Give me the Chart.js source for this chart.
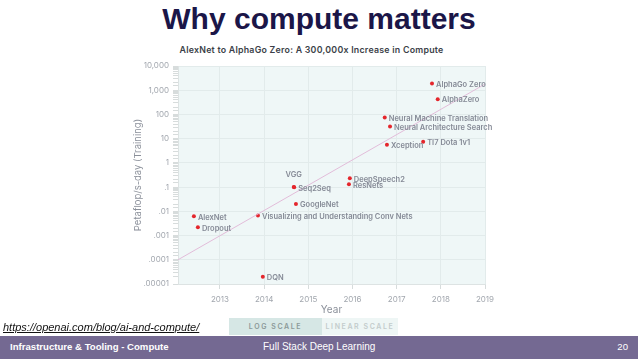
<!DOCTYPE html>
<html>
<head>
<meta charset="utf-8">
<script src="https://cdn.jsdelivr.net/npm/chart.js@4.4.0/dist/chart.umd.min.js"></script>
<style>
  html, body { margin: 0; padding: 0; background: #fff; }
  body { width: 638px; height: 359px; position: relative; overflow: hidden; font-family: "Liberation Sans", Arial, sans-serif; }
  #title { position: absolute; left: 0; top: 2px; width: 638px; text-align: center; font-weight: bold; font-size: 30px; color: #1b1648; }
  #subtitle { position: absolute; left: 0; top: 44px; width: 623px; text-align: center; font-family: Inter, sans-serif; font-weight: 600; font-size: 8.8px; letter-spacing: 0.25px; color: #3b3f48; }
  #chartWrap { position: absolute; left: 0; top: 0; }
  #link { position: absolute; left: 3px; top: 321px; font-size: 11px; font-style: italic; color: #111; text-decoration: underline; }
  .btn { position: absolute; top: 318px; height: 17px; line-height: 17px; text-align: center; font-family: Inter, sans-serif; font-size: 7px; letter-spacing: 1.6px; font-weight: 600; }
  #logBtn { left: 229px; width: 93px; background: #d6e7e5; color: #8c9a99; }
  #linBtn { left: 322px; width: 76px; background: #eef6f5; color: #c3cccc; }
  #footer { position: absolute; left: 0; top: 336px; width: 638px; height: 23px; background: #746992; color: #fff; }
  #footer span { position: absolute; top: 5px; font-size: 9.6px; }
  #fLeft { left: 10px; font-weight: bold; }
  #fMid { left: 263px; font-size: 10px !important; top: 5px !important; }
  #fRight { right: 10px; }
</style>
</head>
<body>
<div id="title">Why compute matters</div>
<div id="subtitle">AlexNet to AlphaGo Zero: A 300,000x Increase in Compute</div>
<div id="chartWrap"><canvas id="computeChart" width="638" height="359"></canvas></div>
<div id="link">https://openai.com/blog/ai-and-compute/</div>
<div class="btn" id="logBtn">LOG SCALE</div>
<div class="btn" id="linBtn">LINEAR SCALE</div>
<div id="footer">
  <span id="fLeft">Infrastructure &amp; Tooling - Compute</span>
  <span id="fMid">Full Stack Deep Learning</span>
  <span id="fRight">20</span>
</div>
<script>
// models, year of publication and training compute (petaflop/s-days)
const models = ['AlexNet', 'Dropout', 'DQN', 'Visualizing and Understanding Conv Nets', 'VGG', 'Seq2Seq',
  'GoogleNet', 'DeepSpeech2', 'ResNets', 'Xception', 'TI7 Dota 1v1', 'Neural Machine Translation',
  'Neural Architecture Search', 'AlphaZero', 'AlphaGo Zero'];
const years = [2012.41, 2012.5, 2013.97, 2013.86, 2014.67, 2014.68,
  2014.72, 2015.94, 2015.92, 2016.78, 2017.6, 2016.73,
  2016.85, 2017.93, 2017.8];
const compute = [0.0062, 0.0022, 0.00002, 0.0068, 0.1, 0.098,
  0.02, 0.23, 0.13, 5.6, 7.4, 75,
  32, 425, 1900];
const labelsAbove = ['VGG'];

// trend line end points
const trendYears = [2012.05, 2019];
const trendCompute = [0.0001, 1800];

const yTickLabels = {
  '10000': '10,000', '1000': '1,000', '100': '100', '10': '10', '1': '1',
  '0.1': '.1', '0.01': '.01', '0.001': '.001', '0.0001': '.0001', '0.00001': '.00001'
};

function isMajor(v) {
  const l = Math.log10(v);
  return Math.abs(l - Math.round(l)) < 1e-6;
}

const plotBg = {
  id: 'plotBg',
  beforeDraw(chart) {
    const a = chart.chartArea, ctx = chart.ctx;
    ctx.save();
    ctx.fillStyle = '#eff7f7';
    ctx.fillRect(a.left, a.top, a.right - a.left, a.bottom - a.top);
    ctx.restore();
  }
};

const pointLabels = {
  id: 'pointLabels',
  afterDatasetsDraw(chart) {
    const ctx = chart.ctx;
    const meta = chart.getDatasetMeta(1);
    ctx.save();
    ctx.font = '600 7.5px Inter, sans-serif';
    ctx.fillStyle = '#858a96';
    ctx.textBaseline = 'middle';
    meta.data.forEach((pt, i) => {
      const name = models[i];
      if (labelsAbove.includes(name)) {
        ctx.textAlign = 'center';
        ctx.fillText(name, pt.x, pt.y - 12);
      } else {
        ctx.textAlign = 'left';
        ctx.fillText(name, pt.x + 4, pt.y + 1);
      }
    });
    ctx.restore();
  }
};

new Chart(document.getElementById('computeChart').getContext('2d'), {
  type: 'scatter',
  data: {
    datasets: [
      {
        type: 'line',
        data: trendYears.map((y, i) => ({ x: y, y: trendCompute[i] })),
        borderColor: '#e2bcd9',
        borderWidth: 1,
        pointRadius: 0,
        fill: false
      },
      {
        data: years.map((y, i) => ({ x: y, y: compute[i] })),
        backgroundColor: '#e4262c',
        borderWidth: 0,
        pointRadius: 2
      }
    ]
  },
  options: {
    responsive: false,
    animation: false,
    layout: { padding: { left: 132, right: 153, top: 66, bottom: 43 } },
    plugins: { legend: { display: false }, tooltip: { enabled: false } },
    scales: {
      x: {
        type: 'linear',
        min: 2012.05,
        max: 2019,
        afterFit(scale) { scale.height = 32; },
        ticks: {
          stepSize: 1,
          includeBounds: false,
          color: '#a2a7ae',
          font: { family: 'Inter', size: 8 },
          padding: 6,
          callback: v => String(v)
        },
        grid: { color: '#e2ebeb', tickColor: '#d7dcdc', tickLength: 5 },
        border: { color: '#dde3e3' },
        title: { display: true, text: 'Year', color: '#8b909a', font: { family: 'Inter', size: 10 }, padding: { top: 0, bottom: 0 } }
      },
      y: {
        type: 'logarithmic',
        min: 0.00001,
        max: 10000,
        afterFit(scale) { scale.width = 46; },
        ticks: {
          autoSkip: false,
          color: '#a2a7ae',
          font: { family: 'Inter', size: 8 },
          padding: 4,
          callback: v => isMajor(v) ? (yTickLabels[String(Number(v.toPrecision(1)))] || '') : ''
        },
        grid: {
          color: ctx => isMajor(ctx.tick.value) ? '#e2ebeb' : 'rgba(0,0,0,0)',
          tickColor: '#d7dcdc',
          tickLength: 5
        },
        border: { color: '#dde3e3' },
        title: { display: true, text: 'Petaflop/s-day (Training)', color: '#8b909a', font: { family: 'Inter', size: 9.5 }, padding: { top: 0, bottom: 0 } }
      }
    }
  },
  plugins: [plotBg, pointLabels]
});
</script>
</body>
</html>
